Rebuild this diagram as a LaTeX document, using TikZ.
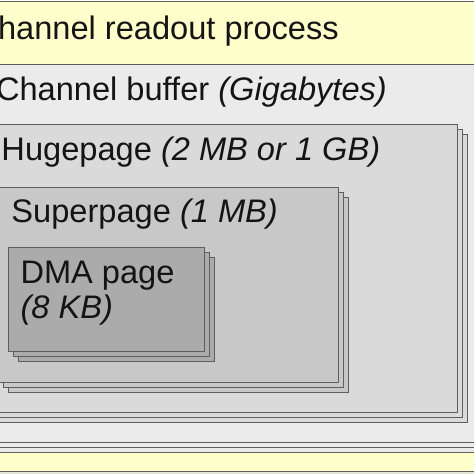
\documentclass[tikz,border=0pt]{standalone}
\usepackage{fontspec}
\setmainfont{Liberation Sans}
\definecolor{linec}{HTML}{5E5E5E}
\definecolor{procfill}{HTML}{FFFFCC}
\definecolor{buffill}{HTML}{EBEBEB}
\definecolor{hugefill}{HTML}{DADADA}
\definecolor{superfill}{HTML}{C8C8C8}
\definecolor{dmafill}{HTML}{ABABAB}
\definecolor{belowfill}{HTML}{E6E6D6}
\definecolor{txt}{HTML}{141414}
\tikzset{
  box/.style={draw=linec, line width=1pt},
  lbl/.style={anchor=base west, inner sep=0pt, outer sep=0pt, text=txt,
              font=\fontsize{32.6}{35}\selectfont},
}
\newcommand{\stackbox}[5]{%
  % #1 fill, #2 x1, #3 y1, #4 x2, #5 y2
  \path[box, fill=#1] ({#2+10},{#3+10}) rectangle ({#4+10},{#5+10});
  \path[box, fill=#1] ({#2+5},{#3+5}) rectangle ({#4+5},{#5+5});
  \path[box, fill=#1] (#2,#3) rectangle (#4,#5);
}
\begin{document}
\begin{tikzpicture}[x=1pt,y=-1pt]
\useasboundingbox (0,0) rectangle (474,474);
\clip (0,0) rectangle (474,474);
% background below process box
\fill[belowfill] (-10,460) rectangle (490,490);
% process box
\path[box, fill=procfill] (-40,1.5) rectangle (490,471.5);
\node[lbl] (proc) at (-25.5,39) {Channel readout process};
% channel buffer
\stackbox{buffill}{-14}{64}{485}{442}
\node[lbl] (buf) at (-4,100) {Channel buffer \textit{(Gigabytes)}};
% hugepage
\stackbox{hugefill}{-12}{124}{457}{412}
\node[lbl] (huge) at (1.5,160) {Hugepage \textit{(2 MB or 1 GB)}};
% superpage
\stackbox{superfill}{-2}{187}{338}{382}
\node[lbl] (super) at (11.5,222) {Superpage \textit{(1 MB)}};
% DMA page
\stackbox{dmafill}{8}{247}{204}{351}
\node[lbl] (dma1) at (20.5,283) {DMA page};
\node[lbl] (dma2) at (20.5,318) {\textit{(8 KB)}};
\end{tikzpicture}
\end{document}
